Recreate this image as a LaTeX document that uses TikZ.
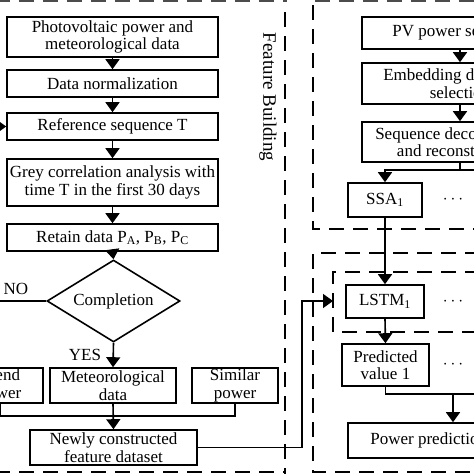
\documentclass[tikz,border=0pt]{standalone}
\usepackage{fontspec}
\setmainfont{Liberation Serif}
\usetikzlibrary{arrows.meta,shapes.geometric}
\begin{document}
\begin{tikzpicture}[x=1pt,y=-1pt,
  txt/.style={font=\fontsize{17}{17.5}\selectfont},
  box/.style={txt,draw,line width=1.6pt,align=center,inner sep=0pt},
  lbl/.style={txt,inner sep=0pt},
  dia/.style={txt,draw,line width=1.6pt,diamond,aspect=1.62,minimum width=133pt,minimum height=82pt,inner sep=0pt},
  conn/.style={line width=1.6pt},
  arr/.style={line width=1.6pt,-{Triangle[width=14pt,length=10pt]}},
  frame/.style={line width=2pt,dash pattern=on 15pt off 9pt}]
\useasboundingbox (0,0) rectangle (474,474);
\clip (0,0) rectangle (474,474);

% frames
\draw[frame,black!70,line width=3pt] (-5,0.5) -- (287,0.5);
\draw[frame,black!70,line width=3pt] (315,0.5) -- (480,0.5);
\draw[frame] (285,12) -- (285,474);
\draw[frame] (-5,472) -- (285,472);
\draw[frame] (313,5) -- (313,229) -- (480,229);
\draw[frame] (480,253) -- (313,253) -- (313,472) -- (480,472);
\draw[frame] (480,272) -- (333,272) -- (333,332) -- (480,332);

% left column
\node[box,minimum width=211pt,minimum height=40pt] (b1) at (112.5,37) {Photovoltaic power and\\meteorological data};
\node[box,minimum width=211pt,minimum height=27pt] (b2) at (112.5,83.5) {Data normalization};
\node[box,minimum width=211pt,minimum height=27pt] (b3) at (112.5,126.5) {Reference sequence T};
\node[box,minimum width=211pt,minimum height=47pt] (b4) at (112.5,182.5) {Grey correlation analysis with\\time T in the first 30 days};
\node[box,minimum width=211pt,minimum height=27pt] (b5) at (112.5,237.5) {Retain data P\textsubscript{A}, P\textsubscript{B}, P\textsubscript{C}};
\node[dia] (dia) at (113.5,301) {Completion};
\node[box,minimum width=86pt,minimum height=35pt] (trend) at (0,385.5) {Trend\\power};
\node[box,minimum width=126pt,minimum height=35pt] (met) at (113,385.5) {Meteorological\\data};
\node[box,minimum width=86pt,minimum height=35pt] (sim) at (235,385.5) {Similar\\power};
\node[box,minimum width=167pt,minimum height=35pt] (new) at (113.5,447.5) {Newly constructed\\feature dataset};

\node[lbl] (no) at (16,289) {NO};
\node[lbl] (yes) at (85,355) {YES};
\node[lbl,rotate=-90,font=\fontsize{19}{20}\selectfont] (fb) at (268,97) {Feature Building};

\draw[arr] (b1.south) -- (b2.north);
\draw[arr] (b2.south) -- (b3.north);
\draw[arr] (b3.south) -- (b4.north);
\draw[arr] (b4.south) -- (b5.north);
\draw[arr] (b5.south) -- (dia.north);
\coordinate (noc) at (-10,301);
\draw[arr] (dia.west) -- (noc) |- (b3.west);
\draw[arr] (dia.south) -- (met.north);
\coordinate (j) at (113,416);
\draw[conn] (trend.south) |- (j);
\draw[conn] (sim.south) |- (j);
\draw[arr] (met.south) -- (new.north);
\coordinate (fx) at (302,447.5);
\coordinate (lin) at (333,301);
\draw[arr] (new.east) -- (fx) |- (lin);

% right column
\node[box,minimum width=196pt,minimum height=32pt] (pv) at (460,33) {PV power sequence};
\node[box,minimum width=196pt,minimum height=41pt] (emb) at (460,83.5) {Embedding dimension\\selection};
\node[box,minimum width=196pt,minimum height=40pt] (seq) at (460,142) {Sequence decomposition\\and reconstruction};
\node[box,minimum width=74pt,minimum height=34pt] (ssa) at (385,200) {SSA\textsubscript{1}};
\node[lbl] (d1) at (453,200) {$\cdots$};
\node[box,minimum width=78pt,minimum height=33pt] (lstm) at (385,301.5) {LSTM\textsubscript{1}};
\node[lbl] (d2) at (453,301.5) {$\cdots$};
\node[box,minimum width=87pt,minimum height=42pt] (pred) at (385.5,365) {Predicted\\value 1};
\node[lbl] (d3) at (453,365) {$\cdots$};
\node[box,minimum width=210pt,minimum height=35pt] (pow) at (453,440.5) {Power prediction results};

\draw[arr] (pv.south) -- (emb.north);
\draw[arr] (emb.south) -- (seq.north);
\coordinate (sj) at (460,170);
\coordinate (sjr) at (490,170);
\draw[conn] (seq.south) -- (sj) -- (sjr);
\draw[arr] (sj) -| (ssa.north);
\draw[arr] (ssa.south) -- (lstm.north);
\draw[arr] (lstm.south) -- (pred.north);
\coordinate (pj) at (453,394);
\coordinate (pjr) at (490,394);
\draw[conn] (pred.south) |- (pjr);
\draw[arr] (pj) -- (pow.north);
\end{tikzpicture}
\end{document}
